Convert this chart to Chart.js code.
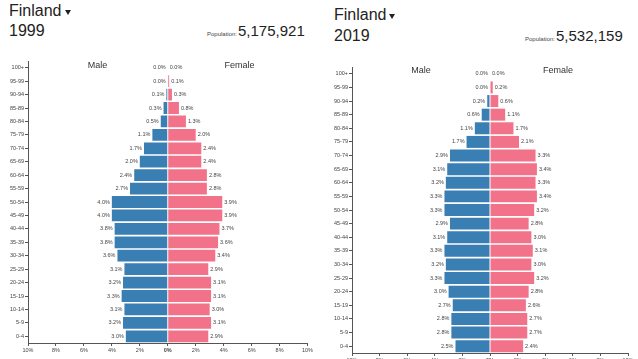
<!DOCTYPE html>
<html><head><meta charset="utf-8">
<script src="https://cdn.jsdelivr.net/npm/chart.js@4.4.1/dist/chart.umd.min.js"></script>
<style>
html,body{margin:0;padding:0;width:638px;height:359px;overflow:hidden;background:#fff;font-family:"Liberation Sans",Arial,sans-serif;color:#222;}
.abs{position:absolute;white-space:nowrap;line-height:1;}
.tri{position:absolute;width:0;height:0;border-left:3.5px solid transparent;border-right:3.5px solid transparent;border-top:5px solid #222;}
.hdr{position:absolute;white-space:nowrap;line-height:1;font-size:9px;color:#333;transform:translateX(-50%);}
canvas{position:absolute;top:0;}
</style></head><body>
<div class="abs" style="left:9px;top:3px;font-size:16px;">Finland</div>
<div class="tri" style="left:65px;top:10px;"></div>
<div class="abs" style="left:9px;top:22.5px;font-size:16px;">1999</div>
<div class="abs" style="left:207px;top:31px;font-size:6px;color:#444;">Population:</div>
<div class="abs" style="left:238px;top:23.3px;font-size:15px;">5,175,921</div>

<div class="abs" style="left:334px;top:6.5px;font-size:16px;">Finland</div>
<div class="tri" style="left:389px;top:14px;"></div>
<div class="abs" style="left:334px;top:27.5px;font-size:16px;">2019</div>
<div class="abs" style="left:525px;top:36px;font-size:6px;color:#444;">Population:</div>
<div class="abs" style="left:556px;top:28.3px;font-size:15px;">5,532,159</div>

<canvas id="c1" width="316" height="359" style="left:0;width:316px;height:359px;"></canvas>
<canvas id="c2" width="316" height="359" style="left:322px;width:316px;height:359px;"></canvas>

<div class="hdr" style="left:97.5px;top:61.4px;">Male</div>
<div class="hdr" style="left:239.5px;top:61.4px;">Female</div>
<div class="hdr" style="left:421px;top:66.4px;">Male</div>
<div class="hdr" style="left:558px;top:66.4px;">Female</div>

<script>
const ageGroups = ['100+','95-99','90-94','85-89','80-84','75-79','70-74','65-69','60-64','55-59','50-54','45-49','40-44','35-39','30-34','25-29','20-24','15-19','10-14','5-9','0-4'];
const male1999   = [0.0,0.0,0.1,0.3,0.5,1.1,1.7,2.0,2.4,2.7,4.0,4.0,3.8,3.8,3.6,3.1,3.2,3.3,3.1,3.2,3.0];
const female1999 = [0.0,0.1,0.3,0.8,1.3,2.0,2.4,2.4,2.8,2.8,3.9,3.9,3.7,3.6,3.4,2.9,3.1,3.1,3.0,3.1,2.9];
const male2019   = [0.0,0.0,0.2,0.6,1.1,1.7,2.9,3.1,3.2,3.3,3.3,2.9,3.1,3.3,3.2,3.3,3.0,2.7,2.8,2.8,2.5];
const female2019 = [0.0,0.2,0.6,1.1,1.7,2.1,3.3,3.4,3.3,3.4,3.2,2.8,3.0,3.1,3.0,3.2,2.8,2.6,2.7,2.7,2.4];
const xTickStep = 2;
const xMin = -10, xMax = 10;

const FONT = '"Liberation Sans", Arial, sans-serif';
const MALE_COLOR = '#3a7fb4';
const FEMALE_COLOR = '#f2728a';

const valueLabels = {
  id: 'valueLabels',
  afterDatasetsDraw(chart) {
    const ctx = chart.ctx;
    ctx.save();
    ctx.font = '5.5px ' + FONT;
    ctx.fillStyle = '#444';
    ctx.textBaseline = 'middle';
    chart.data.datasets.forEach((ds, i) => {
      const meta = chart.getDatasetMeta(i);
      meta.data.forEach((bar, j) => {
        const v = Math.abs(ds.data[j]);
        const txt = v.toFixed(1) + '%';
        if (ds.side === 'm') {
          ctx.textAlign = 'right';
          ctx.fillText(txt, bar.x - 2, bar.y);
        } else {
          ctx.textAlign = 'left';
          ctx.fillText(txt, bar.x + 2, bar.y);
        }
      });
    });
    ctx.restore();
  }
};

function makeChart(id, male, female, L) {
  return new Chart(document.getElementById(id), {
    type: 'bar',
    data: {
      labels: ageGroups,
      datasets: [
        { side: 'm', label: 'Male', data: male.map(v => -v), backgroundColor: MALE_COLOR },
        { side: 'f', label: 'Female', data: female.slice(), backgroundColor: FEMALE_COLOR }
      ]
    },
    plugins: [valueLabels],
    options: {
      indexAxis: 'y',
      responsive: false,
      maintainAspectRatio: false,
      animation: false,
      devicePixelRatio: 1,
      layout: { padding: { top: L.top, right: L.right, left: 0, bottom: 0 } },
      plugins: { legend: { display: false }, tooltip: { enabled: false } },
      datasets: { bar: { grouped: false, barPercentage: 0.88, categoryPercentage: 1, borderWidth: 0 } },
      scales: {
        x: {
          min: xMin, max: xMax,
          ticks: {
            stepSize: xTickStep, autoSkip: false, maxRotation: 0, padding: 1, color: '#444',
            callback: v => Math.abs(v) + '%',
            font: c => ({ family: FONT, size: 5.5, weight: (c.tick && c.tick.value === 0) ? 'bold' : 'normal' })
          },
          grid: { drawOnChartArea: false, drawTicks: true, tickLength: 3, color: '#555' },
          border: { display: true, color: '#555', width: 1 },
          afterFit: s => { s.height = L.xh; }
        },
        y: {
          ticks: { autoSkip: false, padding: 1, color: '#444', font: { family: FONT, size: 5.5 } },
          grid: { drawOnChartArea: false, drawTicks: true, tickLength: 3, color: '#555', offset: false },
          border: { display: true, color: '#555', width: 1 },
          afterFit: s => { s.width = L.yw; }
        }
      }
    }
  });
}

makeChart('c1', male1999, female1999, { top: 61, right: 8.5, yw: 28, xh: 16 });
makeChart('c2', male2019, female2019, { top: 67, right: 10, yw: 30, xh: 6 });
</script>
</body></html>
